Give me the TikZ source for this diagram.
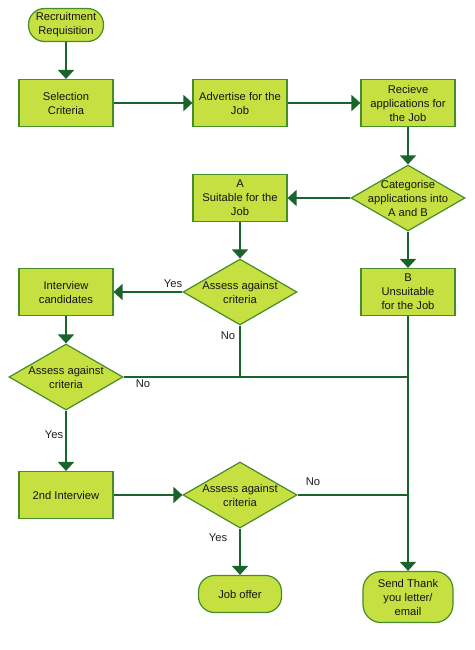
\documentclass[tikz,border=0pt]{standalone}
\usepackage{fontspec}
\setmainfont{Liberation Sans}
\usetikzlibrary{shapes.geometric,arrows.meta}
\definecolor{boxfill}{RGB}{198,224,66}
\definecolor{boxline}{RGB}{70,140,40}
\definecolor{conn}{RGB}{25,100,45}
\definecolor{lbl}{RGB}{30,30,30}
\begin{document}
\begin{tikzpicture}[x=1pt,y=-1pt,
  font=\fontsize{11.2}{14}\selectfont,
  base/.style={fill=boxfill,draw=boxline,line width=1.2pt,align=center,inner sep=1pt,text=black!92},
  proc/.style={base,rectangle,minimum width=94pt,minimum height=47pt},
  term/.style={base,rectangle,rounded corners=16pt},
  dec/.style={base,diamond,minimum width=114pt,minimum height=66pt,inner sep=0pt},
  dtext/.style={align=center,inner sep=0pt,text=black!92},
  conn/.style={draw=conn,line width=2pt},
  arr/.style={conn,-{Triangle[width=16pt,length=9pt]}},
  lab/.style={text=lbl,inner sep=0pt}]
\useasboundingbox (0,0) rectangle (474,650);
\node[term,minimum width=75pt,minimum height=33pt] (rr) at (66,25) {Recruitment\\Requisition};
\node[proc] (sel) at (66,103) {Selection\\Criteria};
\node[proc] (adv) at (240,103) {Advertise for the\\Job};
\node[proc] (rec) at (408,103) {Recieve\\applications for\\the Job};
\node[dec] (cat) at (408,198) {};
\node[dtext] (catt) at (cat) {Categorise\\applications into\\A and B};
\node[proc] (sa) at (240,198) {A\\Suitable for the\\Job};
\node[dec] (as1) at (240,292) {};
\node[dtext] (as1t) at (as1) {Assess against\\criteria};
\node[proc] (ub) at (408,292) {B\\Unsuitable\\for the Job};
\node[proc] (int) at (66,292) {Interview\\candidates};
\node[dec] (as2) at (66,377) {};
\node[dtext] (as2t) at (as2) {Assess against\\criteria};
\node[proc] (sec) at (66,495) {2nd Interview};
\node[dec] (as3) at (240,495) {};
\node[dtext] (as3t) at (as3) {Assess against\\criteria};
\node[term,minimum width=83pt,minimum height=37pt] (job) at (240,594) {Job offer};
\node[term,minimum width=90pt,minimum height=51pt,rounded corners=18pt] (thx) at (408,597) {Send Thank\\you letter/\\email};
\coordinate (j1) at (408,377);
\draw[arr] (rr) -- (sel);
\draw[arr] (sel) -- (adv);
\draw[arr] (adv) -- (rec);
\draw[arr] (rec) -- (cat);
\draw[arr] (cat) -- (sa);
\draw[arr] (cat) -- (ub);
\draw[arr] (sa) -- (as1);
\draw[arr] (as1) -- (int);
\draw[arr] (int) -- (as2);
\draw[conn] (as1.south) -- (as1.south |- j1);
\draw[conn] (as2.east) -- (j1);
\draw[arr] (as2) -- (sec);
\draw[arr] (sec) -- (as3);
\draw[conn] (as3.east) -- (ub |- as3);
\draw[arr] (as3) -- (job);
\draw[arr] (ub) -- (thx);
\node[lab] (y1) at (173,284) {Yes};
\node[lab] (n1) at (228,336) {No};
\node[lab] (n2) at (143,384) {No};
\node[lab] (y2) at (54,435) {Yes};
\node[lab] (n3) at (313,482) {No};
\node[lab] (y3) at (218,538) {Yes};
\end{tikzpicture}
\end{document}
